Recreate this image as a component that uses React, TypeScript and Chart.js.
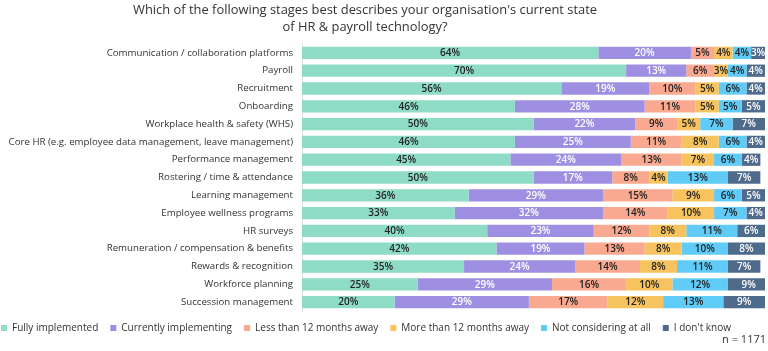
import React, { useEffect, useRef } from "react";
import { Chart, registerables } from "chart.js";

Chart.register(...registerables);

const titleLines = [
  "Which of the following stages best describes your organisation's current state",
  "of HR & payroll technology?",
];

const categories = [
  "Communication / collaboration platforms",
  "Payroll",
  "Recruitment",
  "Onboarding",
  "Workplace health & safety (WHS)",
  "Core HR (e.g. employee data management, leave management)",
  "Performance management",
  "Rostering / time & attendance",
  "Learning management",
  "Employee wellness programs",
  "HR surveys",
  "Remuneration / compensation & benefits",
  "Rewards & recognition",
  "Workforce planning",
  "Succession management",
];

const seriesNames = [
  "Fully implemented",
  "Currently implementing",
  "Less than 12 months away",
  "More than 12 months away",
  "Not considering at all",
  "I don't know",
];

const fullyImplemented = [64, 70, 56, 46, 50, 46, 45, 50, 36, 33, 40, 42, 35, 25, 20];
const currentlyImplementing = [20, 13, 19, 28, 22, 25, 24, 17, 29, 32, 23, 19, 24, 29, 29];
const lessThan12 = [5, 6, 10, 11, 9, 11, 13, 8, 15, 14, 12, 13, 14, 16, 17];
const moreThan12 = [4, 3, 5, 5, 5, 8, 7, 4, 9, 10, 8, 8, 8, 10, 12];
const notConsidering = [4, 4, 6, 5, 7, 6, 6, 13, 6, 7, 11, 10, 11, 12, 13];
const dontKnow = [3, 4, 4, 5, 7, 4, 4, 7, 5, 4, 6, 8, 7, 9, 9];

const sampleNote = "n = 1171";

const colors = ["#8edcc5", "#9f8fe3", "#f9a98f", "#f7c35f", "#60cbf6", "#4f6b8b"];
const labelColors = ["#222", "#fff", "#222", "#222", "#222", "#fff"];

const FONT = "'Open Sans', sans-serif";

const decorPlugin = {
  id: "decor",
  afterLayout(chart: any) {
    if (chart.legend) chart.legend.left = chart.legend.left - 11;
  },
  afterDatasetsDraw(chart: any) {
    const ctx = chart.ctx;
    ctx.save();
    ctx.font = "600 10px " + FONT;
    ctx.textAlign = "center";
    ctx.textBaseline = "middle";
    chart.data.datasets.forEach((ds: any, i: number) => {
      const meta = chart.getDatasetMeta(i);
      if (meta.hidden) return;
      meta.data.forEach((bar: any, j: number) => {
        const v = ds.data[j];
        const cx = (bar.x + bar.base) / 2;
        ctx.fillStyle = labelColors[i];
        ctx.fillText(v + "%", cx, bar.y + 0.5);
      });
    });
    ctx.restore();
  },
  afterDraw(chart: any) {
    const ctx = chart.ctx;
    ctx.save();
    ctx.fillStyle = "#333";
    ctx.textAlign = "center";
    ctx.textBaseline = "middle";
    ctx.font = "12.9px " + FONT;
    ctx.fillText(titleLines[0], 365, 10);
    ctx.fillText(titleLines[1], 365, 27);
    ctx.textAlign = "right";
    ctx.font = "11px " + FONT;
    ctx.fillText(sampleNote, 766, 340);
    ctx.restore();
  },
};

export default function App() {
  const ref = useRef<HTMLCanvasElement | null>(null);

  useEffect(() => {
    document.body.style.margin = "0";
    const arrays = [fullyImplemented, currentlyImplementing, lessThan12, moreThan12, notConsidering, dontKnow];
    const chart = new Chart(ref.current as HTMLCanvasElement, {
      type: "bar",
      data: {
        labels: categories,
        datasets: arrays.map((d, i) => ({
          label: seriesNames[i],
          data: d,
          backgroundColor: colors[i],
          borderWidth: 0,
          categoryPercentage: 1,
          barPercentage: 0.69,
        })),
      },
      options: {
        indexAxis: "y",
        animation: false,
        responsive: false,
        maintainAspectRatio: false,
        layout: { padding: { top: 44, right: 3, bottom: 8, left: 0 } },
        scales: {
          x: {
            stacked: true,
            min: 0,
            max: 100,
            display: false,
          },
          y: {
            stacked: true,
            afterFit: (scale: any) => {
              scale.width = 302;
            },
            grid: { display: false, drawTicks: false },
            border: { display: true, color: "#dcdcdc" },
            ticks: {
              color: "#333",
              padding: 9,
              autoSkip: false,
              font: { family: FONT, size: 9.7 },
            },
          },
        },
        plugins: {
          legend: {
            position: "bottom",
            align: "start",
            labels: {
              boxWidth: 6,
              boxHeight: 6,
              padding: 12,
              color: "#333",
              font: { family: FONT, size: 10 },
            },
          },
          title: { display: false },
          tooltip: { enabled: false },
        },
      },
      plugins: [decorPlugin],
    });
    return () => chart.destroy();
  }, []);

  return (
    <div style={{ width: 768, height: 351 }}>
      <canvas ref={ref} width={768} height={351} style={{ display: "block" }} />
    </div>
  );
}
